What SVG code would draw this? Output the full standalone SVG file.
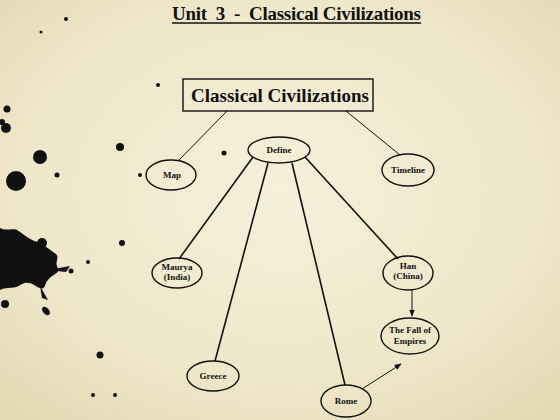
<svg xmlns="http://www.w3.org/2000/svg" width="560" height="420" viewBox="0 0 560 420">
<defs>
<radialGradient id="bg" cx="0.5" cy="0.45" r="0.75">
<stop offset="0" stop-color="#f5f0da"/>
<stop offset="0.6" stop-color="#efe7c9"/>
<stop offset="1" stop-color="#e2d7b1"/>
</radialGradient>
<marker id="arr" viewBox="0 0 10 10" refX="9" refY="5" markerWidth="7" markerHeight="7" orient="auto" markerUnits="userSpaceOnUse">
<path d="M0,1 L10,5 L0,9 z" fill="#111"/>
</marker>
<style>
.t{font-family:"Liberation Serif","Times New Roman",serif;font-weight:bold;fill:#111;text-anchor:middle}
.n{font-size:9px}
.e{fill:none;stroke:#111;stroke-width:1.4}
.c{stroke:#111;fill:none}
.ink{fill:#111}
</style>
</defs>
<rect width="560" height="420" fill="url(#bg)"/>
<g id="splatter" class="ink">
<circle cx="40" cy="157" r="7"/>
<circle cx="16" cy="181" r="10"/>
<circle cx="6" cy="128" r="5"/>
<circle cx="2" cy="122" r="3"/>
<circle cx="120" cy="147" r="4"/>
<circle cx="57" cy="175" r="2.5"/>
<circle cx="42" cy="243" r="5"/>
<circle cx="122" cy="243" r="3"/>
<circle cx="88" cy="262" r="2"/>
<circle cx="71" cy="271" r="2.5"/>
<circle cx="5" cy="304" r="4"/>
<ellipse cx="46" cy="311" rx="3" ry="5" transform="rotate(-40 46 311)"/>
<circle cx="100" cy="355" r="3.5"/>
<circle cx="93" cy="395" r="2"/>
<circle cx="115" cy="395" r="2"/>
<circle cx="66" cy="19" r="2"/>
<circle cx="41" cy="32" r="1.5"/>
<circle cx="158" cy="85" r="2"/>
<circle cx="7" cy="109" r="3.5"/>
<circle cx="140" cy="175" r="2"/>
<circle cx="224" cy="153" r="2.5"/>
<path d="M0,228 C8,232 14,226 20,232 C26,236 30,240 38,242 C46,246 50,250 56,254 C60,258 54,262 58,268 C60,274 52,274 48,280 C44,284 46,290 40,288 C34,286 30,280 22,284 C14,290 8,286 0,290 Z"/>
<path d="M48,270 L70,266 L66,272 Z"/>
<path d="M40,286 L48,300 L42,298 Z"/>
</g>
<g id="title">
<text class="t" x="172" y="20" font-size="19" style="text-anchor:start;white-space:pre" textLength="249" lengthAdjust="spacing">Unit  3  -  Classical Civilizations</text>
<line x1="172" y1="23" x2="421" y2="23" stroke="#111" stroke-width="1.3"/>
</g>
<g id="connectors">
<line class="c" stroke-width="1" x1="227" y1="111" x2="178" y2="161"/>
<line class="c" stroke-width="1" x1="346" y1="111" x2="400" y2="155"/>
<line class="c" stroke-width="1.6" x1="253" y1="157" x2="179" y2="259"/>
<line class="c" stroke-width="1.6" x1="268" y1="163" x2="215" y2="361"/>
<line class="c" stroke-width="1.6" x1="292" y1="163" x2="345" y2="385"/>
<line class="c" stroke-width="1.6" x1="305" y1="157" x2="398" y2="259"/>
<line class="c" stroke-width="1" x1="412" y1="289" x2="412" y2="316" marker-end="url(#arr)"/>
<line class="c" stroke-width="1" x1="362" y1="389" x2="401" y2="364" marker-end="url(#arr)"/>
</g>
<g id="root">
<rect x="183" y="79" width="190" height="32" fill="none" stroke="#111" stroke-width="1.4"/>
<text class="t" x="280" y="102" font-size="19">Classical Civilizations</text>
</g>
<g id="define">
<ellipse class="e" cx="279" cy="150" rx="31" ry="13"/>
<text class="t n" x="279" y="153">Define</text>
</g>
<g id="map">
<ellipse class="e" cx="171" cy="175" rx="25" ry="15"/>
<text class="t n" x="172" y="178">Map</text>
</g>
<g id="timeline">
<ellipse class="e" cx="408" cy="170" rx="26" ry="16"/>
<text class="t n" x="408" y="173">Timeline</text>
</g>
<g id="maurya">
<ellipse class="e" stroke-width="1.8" cx="177" cy="273" rx="25" ry="15"/>
<text class="t n" x="177" y="270">Maurya</text>
<text class="t n" x="177" y="280">(India)</text>
</g>
<g id="han">
<ellipse class="e" stroke-width="1.8" cx="408" cy="273" rx="25" ry="17"/>
<text class="t n" x="408" y="269">Han</text>
<text class="t n" x="408" y="279">(China)</text>
</g>
<g id="fall">
<ellipse class="e" stroke-width="2.6" cx="410" cy="336" rx="29" ry="18"/>
<text class="t n" x="410" y="333">The Fall of</text>
<text class="t n" x="410" y="344">Empires</text>
</g>
<g id="greece">
<ellipse class="e" cx="213" cy="376" rx="26" ry="15"/>
<text class="t n" x="213" y="379">Greece</text>
</g>
<g id="rome">
<ellipse class="e" cx="346" cy="401" rx="25" ry="16"/>
<text class="t n" x="346" y="404">Rome</text>
</g>
</svg>
